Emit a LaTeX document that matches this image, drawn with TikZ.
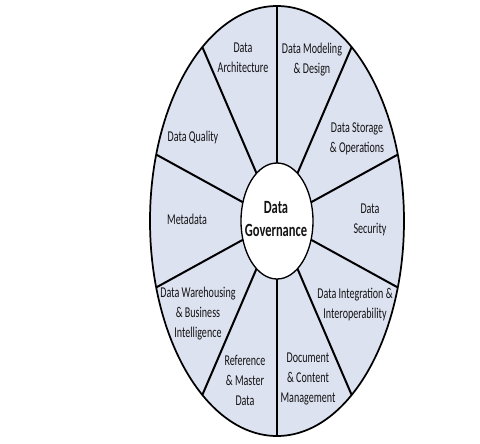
\documentclass[tikz,border=0pt]{standalone}
\usepackage{fontspec}
\setmainfont[FakeStretch=0.67]{Carlito}
\usetikzlibrary{calc}
\definecolor{wheelfill}{RGB}{221,226,241}
\definecolor{labeltext}{RGB}{20,20,20}

\begin{document}
\begin{tikzpicture}[x=0.75pt,y=0.75pt,yscale=-1,xscale=1,
	spoke/.style={line width=1.5pt},
	area/.style={align=center,inner sep=0.75pt,text=labeltext,font=\fontsize{11.25}{15}\selectfont}]
			\useasboundingbox (0,0) rectangle (480,444);
			\coordinate (c) at (277,221);

			%Shape: Ellipse [outer wheel]
			\fill [wheelfill] (c) ellipse (127 and 215);
			%Straight Lines [spokes]
			\foreach \a in {90,126,...,414}
				\draw [spoke] (c) -- ([shift={(\a:127 and 215)}]c);
			%Shape: Ellipse [hub]
			\draw [fill=white, line width=1pt] (c) ellipse (36 and 58);
			%Shape: Ellipse [rim]
			\draw [line width=1.3pt] (c) ellipse (127 and 215);

			% Text Node
			\node [align=center, text=labeltext, font=\fontsize{14}{17.25}\selectfont\bfseries] (gov) at (276,219) {Data\\Governance};
			% Text Node
			\node [area] (arch) at (243,58) {Data\\Architecture};
			% Text Node
			\node [area] (model) at (312,60) {Data Modeling\\\& Design};
			% Text Node
			\node [area] (store) at (357,139) {Data Storage\\\& Operations};
			% Text Node
			\node [area] (secur) at (370,220) {Data\\Security};
			% Text Node
			\node [area] (integ) at (355,305) {Data Integration \&\\Interoperability};
			% Text Node
			\node [area] (doc) at (308,379) {Document\\\& Content\\Management};
			% Text Node
			\node [area] (ref) at (245,380) {Reference\\\& Master\\Data};
			% Text Node
			\node [area] (ware) at (198,314) {Data Warehousing\\\& Business\\Intelligence};
			% Text Node
			\node [area] (meta) at (187,219) {Metadata};
			% Text Node
			\node [area] (qual) at (193,137) {Data Quality};

\end{tikzpicture}
\end{document}
